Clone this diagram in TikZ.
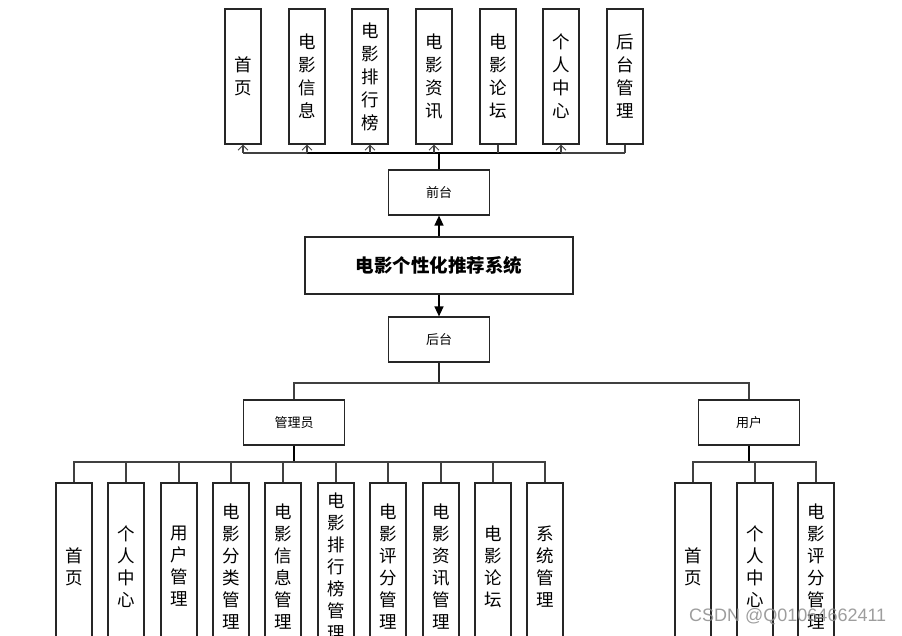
\documentclass[tikz,border=0pt]{standalone}
\usepackage{fontspec}
\newfontfamily\cjk{Noto Sans CJK SC}
\newfontfamily\wmfont{Liberation Sans}
\usetikzlibrary{arrows.meta}
\begin{document}
\begin{tikzpicture}[x=1pt,y=-1pt,
  vbox/.style={draw=black!85,line width=1.2pt,minimum width=36pt,inner sep=0pt,align=center,
    font=\cjk\fontsize{17.5}{23}\selectfont},
  topbox/.style={vbox,minimum height=135pt},
  lowbox/.style={vbox,minimum height=167pt,font=\cjk\fontsize{17.5}{22}\selectfont},
  hbox/.style={draw=black!85,line width=1.2pt,minimum width=101pt,minimum height=45pt,inner sep=0pt,
    font=\cjk\fontsize{13}{15}\selectfont},
  conn/.style={draw=black!75,line width=1.2pt},
  openarrow/.style={conn,-{Straight Barb[length=5pt,width=10pt,line width=0.9pt]}},
  mainarrow/.style={draw=black,line width=1.4pt,-{Triangle[length=10pt,width=9pt]}}
]
\useasboundingbox (0,0) rectangle (902,636);
\clip (0,0) rectangle (902,636);
% top boxes
\node[topbox] (t1) at (243,76.5) {首\\页};
\node[topbox] (t2) at (307,76.5) {电\\影\\信\\息};
\node[topbox] (t3) at (370,76.5) {电\\影\\排\\行\\榜};
\node[topbox] (t4) at (434,76.5) {电\\影\\资\\讯};
\node[topbox] (t5) at (498,76.5) {电\\影\\论\\坛};
\node[topbox] (t6) at (561,76.5) {个\\人\\中\\心};
\node[topbox] (t7) at (625,76.5) {后\\台\\管\\理};
\coordinate (tbus) at (439,153);
% middle
\node[hbox] (front) at (439,192.5) {前台};
\node[draw=black!85,line width=1.2pt,minimum width=268pt,minimum height=57pt,inner sep=0pt,
  font=\cjk\bfseries\fontsize{18.5}{21}\selectfont] (main) at (439,265.5) {电影个性化推荐系统};
\node[hbox] (back) at (439,339.5) {后台};
\node[hbox] (admin) at (294,422.5) {管理员};
\node[hbox] (user) at (749,422.5) {用户};
\coordinate (hb) at (439,383);
\coordinate (abus) at (294,462);
\coordinate (ubus) at (749,462);
% admin children
\node[lowbox] (a1) at (74,566.5) {首\\页};
\node[lowbox] (a2) at (126,566.5) {个\\人\\中\\心};
\node[lowbox] (a3) at (179,566.5) {用\\户\\管\\理};
\node[lowbox] (a4) at (231,566.5) {电\\影\\分\\类\\管\\理};
\node[lowbox] (a5) at (283,566.5) {电\\影\\信\\息\\管\\理};
\node[lowbox] (a6) at (336,566.5) {电\\影\\排\\行\\榜\\管\\理};
\node[lowbox] (a7) at (388,566.5) {电\\影\\评\\分\\管\\理};
\node[lowbox] (a8) at (441,566.5) {电\\影\\资\\讯\\管\\理};
\node[lowbox] (a9) at (493,566.5) {电\\影\\论\\坛};
\node[lowbox] (a10) at (545,566.5) {系\\统\\管\\理};
% user children
\node[lowbox] (u1) at (693,566.5) {首\\页};
\node[lowbox] (u2) at (755,566.5) {个\\人\\中\\心};
\node[lowbox] (u3) at (816,566.5) {电\\影\\评\\分\\管\\理};
% top connectors
\draw[draw=black,line width=2.8pt] (front.north) -- (tbus);
\draw[conn] (t1.south |- tbus) -- (t7.south |- tbus);
\draw[draw=black,line width=1.5pt] (t2.south |- tbus) -- (t6.south |- tbus);
\foreach \n in {t1,t2,t3,t4,t6} {\draw[openarrow] (\n.south |- tbus) -- (\n.south);}
\foreach \n in {t5,t7} {\draw[conn] (\n.south |- tbus) -- (\n.south);}
% main arrows
\draw[mainarrow] (main.north) -- (front.south);
\draw[mainarrow] (main.south) -- (back.north);
% lower tree
\draw[conn,draw=black!85] (back.south) -- (hb);
\draw[conn] (admin.north) |- (hb) -| (user.north);
\draw[draw=black,line width=1.8pt] (admin.south) -- (abus);
\draw[conn] (a1.north) |- (abus) -| (a10.north);
\foreach \n in {a2,a3,a4,a5,a6,a7,a8,a9} {\draw[conn] (\n.north) -- (\n.north |- abus);}
\draw[draw=black,line width=1.8pt] (user.south) -- (ubus);
\draw[conn] (u1.north) |- (ubus) -| (u3.north);
\draw[conn] (u2.north) -- (u2.north |- ubus);
% watermark
\node[anchor=west,inner sep=0pt,text=black!45,opacity=0.85,font=\wmfont\fontsize{18}{20}\selectfont] (wm) at (689,617) {CSDN @Q01064662411};
\end{tikzpicture}
\end{document}
